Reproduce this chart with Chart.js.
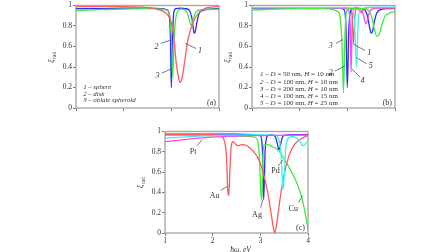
<!DOCTYPE html>
<html>
<head>
<meta charset="utf-8">
<script src="https://cdn.jsdelivr.net/npm/chart.js@4/dist/chart.umd.min.js"></script>
<style>
  body { margin: 0; background: #fff; width: 448px; height: 252px; overflow: hidden; position: relative; }
  canvas { position: absolute; }
</style>
</head>
<body>
<canvas id="chartA" width="188" height="114" style="left:36px;top:0"></canvas>
<canvas id="chartB" width="188" height="114" style="left:212px;top:0"></canvas>
<canvas id="chartC" width="188" height="126" style="left:125px;top:126px"></canvas>
<script>
// ---- tick labels ----
const xTickValues = [1, 2, 3, 4];
const xTickLabels = ["1", "2", "3", "4"];
const yTickValues = [0, 0.2, 0.4, 0.6, 0.8, 1];
const yTickLabels = ["0", "0.2", "0.4", "0.6", "0.8", "1"];

// ---- panel (a): particle shapes ----
const aSphereX = [1, 1.5, 2, 2.4, 2.6, 2.7, 2.8, 2.9, 2.95, 3.0, 3.05, 3.1, 3.15, 3.18, 3.22, 3.27, 3.33, 3.4, 3.46, 3.53, 3.6, 3.7, 3.85, 4];
const aSphereY = [0.99, 0.99, 0.99, 0.985, 0.975, 0.965, 0.95, 0.92, 0.89, 0.83, 0.7, 0.45, 0.3, 0.25, 0.28, 0.42, 0.62, 0.76, 0.84, 0.9, 0.94, 0.97, 0.985, 0.99];
const aDiskX = [1, 1.5, 2, 2.5, 2.8, 2.9, 2.95, 2.98, 3.0, 3.02, 3.05, 3.1, 3.2, 3.3, 3.38, 3.43, 3.46, 3.48, 3.5, 3.53, 3.58, 3.65, 3.8, 4];
const aDiskY = [0.97, 0.97, 0.975, 0.975, 0.97, 0.96, 0.93, 0.7, 0.2, 0.6, 0.93, 0.97, 0.975, 0.97, 0.95, 0.88, 0.78, 0.73, 0.74, 0.82, 0.92, 0.95, 0.965, 0.97];
const aSpheroidX = [1, 1.5, 2, 2.5, 2.8, 2.9, 2.96, 3.0, 3.03, 3.06, 3.1, 3.15, 3.2, 3.28, 3.34, 3.38, 3.41, 3.44, 3.48, 3.55, 3.7, 4];
const aSpheroidY = [0.95, 0.96, 0.965, 0.97, 0.965, 0.955, 0.92, 0.7, 0.3, 0.7, 0.9, 0.95, 0.965, 0.96, 0.92, 0.85, 0.81, 0.83, 0.9, 0.95, 0.96, 0.965];

// ---- panel (b): disk sizes ----
const bD50H10X = [1, 1.5, 2, 2.5, 2.9, 3.05, 3.1, 3.13, 3.16, 3.2, 3.24, 3.27, 3.29, 3.32, 3.36, 3.45, 4];
const bD50H10Y = [0.98, 0.98, 0.98, 0.98, 0.98, 0.975, 0.9, 0.62, 0.9, 0.97, 0.96, 0.94, 0.93, 0.945, 0.97, 0.98, 0.98];
const bD100H10X = [1, 1.5, 2, 2.5, 2.8, 2.93, 2.97, 3.0, 3.03, 3.07, 3.15, 3.3, 3.38, 3.43, 3.47, 3.5, 3.53, 3.57, 3.62, 3.7, 3.85, 4];
const bD100H10Y = [0.975, 0.975, 0.978, 0.978, 0.975, 0.96, 0.8, 0.2, 0.75, 0.95, 0.975, 0.97, 0.95, 0.88, 0.78, 0.73, 0.75, 0.85, 0.93, 0.96, 0.97, 0.97];
const bD200H10X = [1, 1.5, 2, 2.5, 2.7, 2.8, 2.85, 2.89, 2.92, 2.95, 2.98, 3.05, 3.2, 3.35, 3.45, 3.52, 3.57, 3.62, 3.67, 3.73, 3.8, 3.9, 4];
const bD200H10Y = [0.955, 0.965, 0.97, 0.97, 0.96, 0.94, 0.88, 0.6, 0.15, 0.7, 0.93, 0.97, 0.975, 0.97, 0.95, 0.88, 0.76, 0.7, 0.72, 0.82, 0.9, 0.93, 0.94];
const bD100H15X = [1, 1.5, 2, 2.5, 2.9, 3.02, 3.06, 3.08, 3.1, 3.14, 3.2, 3.28, 3.33, 3.36, 3.39, 3.42, 3.46, 3.52, 3.65, 4];
const bD100H15Y = [0.98, 0.98, 0.98, 0.98, 0.975, 0.96, 0.8, 0.35, 0.8, 0.96, 0.975, 0.96, 0.92, 0.86, 0.82, 0.85, 0.93, 0.965, 0.975, 0.975];
const bD100H25X = [1, 1.5, 2, 2.5, 2.9, 3.1, 3.15, 3.19, 3.23, 3.27, 3.3, 3.35, 3.5, 4];
const bD100H25Y = [0.98, 0.98, 0.98, 0.98, 0.98, 0.975, 0.85, 0.4, 0.85, 0.97, 0.965, 0.975, 0.985, 0.985];

// ---- panel (c): metals ----
const cPtX = [1, 1.5, 2, 2.5, 3, 3.5, 4];
const cPtY = [0.9, 0.925, 0.945, 0.955, 0.96, 0.965, 0.965];
const cPdX = [1, 1.5, 2, 2.5, 3, 3.3, 3.38, 3.43, 3.46, 3.48, 3.5, 3.53, 3.58, 3.65, 3.75, 3.82, 3.87, 3.91, 3.95, 4];
const cPdY = [0.935, 0.95, 0.96, 0.965, 0.97, 0.965, 0.93, 0.8, 0.55, 0.43, 0.55, 0.82, 0.93, 0.95, 0.94, 0.91, 0.87, 0.86, 0.88, 0.91];
const cAgX = [1, 1.5, 2, 2.5, 2.9, 3.0, 3.04, 3.07, 3.1, 3.14, 3.2, 3.28, 3.33, 3.36, 3.39, 3.42, 3.46, 3.52, 3.7, 4];
const cAgY = [0.975, 0.975, 0.975, 0.975, 0.97, 0.96, 0.85, 0.33, 0.8, 0.95, 0.97, 0.965, 0.93, 0.87, 0.82, 0.86, 0.94, 0.965, 0.97, 0.97];
const cCuX = [1, 1.5, 2, 2.5, 2.8, 2.9, 2.95, 2.98, 3.01, 3.03, 3.05, 3.08, 3.15, 3.25, 3.34, 3.42, 3.5, 3.6, 3.68, 3.76, 3.83, 3.88, 3.93, 3.97, 4];
const cCuY = [0.965, 0.965, 0.96, 0.955, 0.95, 0.94, 0.9, 0.75, 0.4, 0.33, 0.7, 0.87, 0.87, 0.85, 0.83, 0.79, 0.73, 0.65, 0.58, 0.5, 0.41, 0.33, 0.22, 0.12, 0.03];
const cAuX = [1, 1.5, 2, 2.15, 2.2, 2.25, 2.29, 2.32, 2.34, 2.36, 2.39, 2.43, 2.47, 2.53, 2.62, 2.72, 2.8, 2.88, 2.95, 3.02, 3.1, 3.17, 3.23, 3.27, 3.3, 3.33, 3.38, 3.45, 3.52, 3.6, 3.7, 3.8, 3.9, 4];
const cAuY = [0.97, 0.97, 0.97, 0.965, 0.95, 0.9, 0.75, 0.4, 0.37, 0.6, 0.86, 0.9, 0.88, 0.86, 0.87, 0.86, 0.83, 0.79, 0.74, 0.66, 0.52, 0.36, 0.18, 0.06, 0.0, 0.05, 0.22, 0.45, 0.62, 0.76, 0.86, 0.91, 0.94, 0.96];

const SERIF = '"Liberation Serif", "DejaVu Serif", serif';
const RED = "#ff5b5b", BLUE = "#2b2bff", GREEN = "#40e840", MAGENTA = "#ff45ff", CYAN = "#3cf0f0";

function series(xs, ys, color) {
    return {
        data: xs.map((x, i) => ({ x: x, y: ys[i] })),
        borderColor: color,
        borderWidth: 1.3,
        pointRadius: 0,
        fill: false,
        cubicInterpolationMode: "monotone"
    };
}

// draws "*italic* upright" runs starting at x
function drawRuns(ctx, str, x, y, size) {
    str.split("*").forEach((part, i) => {
        ctx.font = (i % 2 ? "italic " : "") + size + "px " + SERIF;
        ctx.fillText(part, x, y);
        x += ctx.measureText(part).width;
    });
}

// frame, y title, curve labels, legend text, panel letter
function decor(cfg) {
    return {
        id: "decor",
        beforeDatasetsDraw(chart) {
            const a = chart.chartArea, ctx = chart.ctx;
            ctx.save();
            ctx.strokeStyle = "#a8a8a8";
            ctx.lineWidth = 1.4;
            ctx.strokeRect(a.left, a.top, a.right - a.left, a.bottom - a.top);
            ctx.restore();
        },
        afterDatasetsDraw(chart) {
            const a = chart.chartArea, ctx = chart.ctx;
            const sx = chart.scales.x, sy = chart.scales.y;
            ctx.save();
            ctx.fillStyle = "#333";
            ctx.textBaseline = "middle";

            // curve labels with leader lines
            ctx.strokeStyle = "#555";
            ctx.lineWidth = 0.8;
            cfg.notes.forEach(n => {
                ctx.beginPath();
                ctx.moveTo(sx.getPixelForValue(n.x1), sy.getPixelForValue(n.y1));
                ctx.lineTo(sx.getPixelForValue(n.x2), sy.getPixelForValue(n.y2));
                ctx.stroke();
                ctx.textAlign = "center";
                ctx.font = (n.italic ? "italic " : "") + "8px " + SERIF;
                ctx.fillText(n.text, sx.getPixelForValue(n.tx), sy.getPixelForValue(n.ty));
            });

            // legend lines
            ctx.textAlign = "left";
            cfg.legend.forEach(l => {
                drawRuns(ctx, l.text, sx.getPixelForValue(l.x), sy.getPixelForValue(l.y), cfg.legendSize);
            });

            // panel letter
            ctx.textAlign = "right";
            ctx.font = "8px " + SERIF;
            ctx.fillText(cfg.panel, a.right - 3, a.bottom - 5);

            // y title: xi_rad
            ctx.translate(a.left - 24, (a.top + a.bottom) / 2);
            ctx.rotate(-Math.PI / 2);
            ctx.textAlign = "left";
            ctx.font = "italic 8px " + SERIF;
            ctx.fillText("ξ", -6, 0);
            ctx.font = "5.5px " + SERIF;
            ctx.fillText("rad", -2, 3);
            ctx.restore();

            // x title
            if (cfg.xTitle) {
                ctx.save();
                ctx.fillStyle = "#333";
                ctx.textAlign = "center";
                ctx.textBaseline = "middle";
                ctx.font = "italic 7.5px " + SERIF;
                ctx.fillText(cfg.xTitle, (a.left + a.right) / 2 + 4, a.bottom + 17);
                ctx.restore();
            }
        }
    };
}

function makeChart(id, datasets, cfg) {
    const tickFont = { family: SERIF, size: 7.5 };
    return new Chart(document.getElementById(id), {
        type: "line",
        data: { datasets: datasets },
        options: {
            responsive: false,
            animation: false,
            devicePixelRatio: 1,
            layout: { padding: { top: 3, right: 5, left: 0, bottom: 0 } },
            plugins: { legend: { display: false }, tooltip: { enabled: false } },
            scales: {
                x: {
                    type: "linear", min: 1, max: 4,
                    afterBuildTicks: s => { s.ticks = xTickValues.map(v => ({ value: v })); },
                    afterFit: s => { s.height = cfg.xHeight; },
                    ticks: { display: cfg.showX, font: tickFont, color: "#333", padding: 1, maxRotation: 0,
                             callback: (v, i) => xTickLabels[i] },
                    grid: { drawOnChartArea: false, tickLength: 3, color: "#777" },
                    border: { display: false }
                },
                y: {
                    min: 0, max: 1,
                    afterBuildTicks: s => { s.ticks = yTickValues.map(v => ({ value: v })); },
                    afterFit: s => { s.width = 40; },
                    ticks: { font: tickFont, color: "#333", padding: 1, callback: (v, i) => yTickLabels[i] },
                    grid: { drawOnChartArea: false, tickLength: 3, color: "#777" },
                    border: { display: false }
                }
            }
        },
        plugins: [decor(cfg)]
    });
}

makeChart("chartA", [
    series(aSphereX, aSphereY, RED),
    series(aSpheroidX, aSpheroidY, GREEN),
    series(aDiskX, aDiskY, BLUE)
], {
    showX: false, xHeight: 6, panel: "(a)", legendSize: 6.8,
    notes: [
        { text: "2", italic: true, tx: 2.69, ty: 0.6, x1: 2.78, y1: 0.63, x2: 2.97, y2: 0.66 },
        { text: "1", italic: true, tx: 3.6, ty: 0.56, x1: 3.29, y1: 0.63, x2: 3.52, y2: 0.58 },
        { text: "3", italic: true, tx: 2.71, ty: 0.31, x1: 2.8, y1: 0.34, x2: 2.99, y2: 0.38 }
    ],
    legend: [
        { text: "*1 – sphere*", x: 1.15, y: 0.2 },
        { text: "*2 – disk*", x: 1.15, y: 0.135 },
        { text: "*3 – oblate spheroid*", x: 1.15, y: 0.072 }
    ]
});

makeChart("chartB", [
    series(bD200H10X, bD200H10Y, GREEN),
    series(bD100H25X, bD100H25Y, CYAN),
    series(bD50H10X, bD50H10Y, RED),
    series(bD100H15X, bD100H15Y, MAGENTA),
    series(bD100H10X, bD100H10Y, BLUE)
], {
    showX: false, xHeight: 6, panel: "(b)", legendSize: 7,
    notes: [
        { text: "3", italic: true, tx: 2.65, ty: 0.61, x1: 2.76, y1: 0.63, x2: 2.91, y2: 0.67 },
        { text: "1", italic: true, tx: 3.46, ty: 0.54, x1: 3.14, y1: 0.62, x2: 3.37, y2: 0.56 },
        { text: "5", italic: true, tx: 3.49, ty: 0.41, x1: 3.2, y1: 0.49, x2: 3.41, y2: 0.43 },
        { text: "2", italic: true, tx: 2.65, ty: 0.34, x1: 2.74, y1: 0.36, x2: 2.95, y2: 0.41 },
        { text: "4", italic: true, tx: 3.32, ty: 0.26, x1: 3.1, y1: 0.38, x2: 3.27, y2: 0.3 }
    ],
    legend: [
        { text: "*1* – *D* = 50 nm, *H* = 10 nm", x: 1.17, y: 0.327 },
        { text: "*2* – *D* = 100 nm, *H* = 10 nm", x: 1.17, y: 0.257 },
        { text: "*3* – *D* = 200 nm, *H* = 10 nm", x: 1.17, y: 0.187 },
        { text: "*4* – *D* = 100 nm, *H* = 15 nm", x: 1.17, y: 0.117 },
        { text: "*5* – *D* = 100 nm, *H* = 25 nm", x: 1.17, y: 0.048 }
    ]
});

makeChart("chartC", [
    series(cPtX, cPtY, MAGENTA),
    series(cPdX, cPdY, CYAN),
    series(cAuX, cAuY, RED),
    series(cCuX, cCuY, GREEN),
    series(cAgX, cAgY, BLUE)
], {
    showX: true, xHeight: 19, panel: "(c)", xTitle: "ħω, eV", legendSize: 7,
    notes: [
        { text: "Pt", tx: 1.59, ty: 0.8, x1: 1.67, y1: 0.86, x2: 1.78, y2: 0.92 },
        { text: "Au", tx: 2.04, ty: 0.37, x1: 2.17, y1: 0.42, x2: 2.31, y2: 0.46 },
        { text: "Ag", tx: 2.93, ty: 0.18, x1: 3.01, y1: 0.25, x2: 3.05, y2: 0.33 },
        { text: "Pd", tx: 3.32, ty: 0.61, x1: 3.37, y1: 0.66, x2: 3.47, y2: 0.72 },
        { text: "Cu", tx: 3.69, ty: 0.24, x1: 3.8, y1: 0.3, x2: 3.89, y2: 0.37 }
    ],
    legend: []
});
</script>
</body>
</html>
